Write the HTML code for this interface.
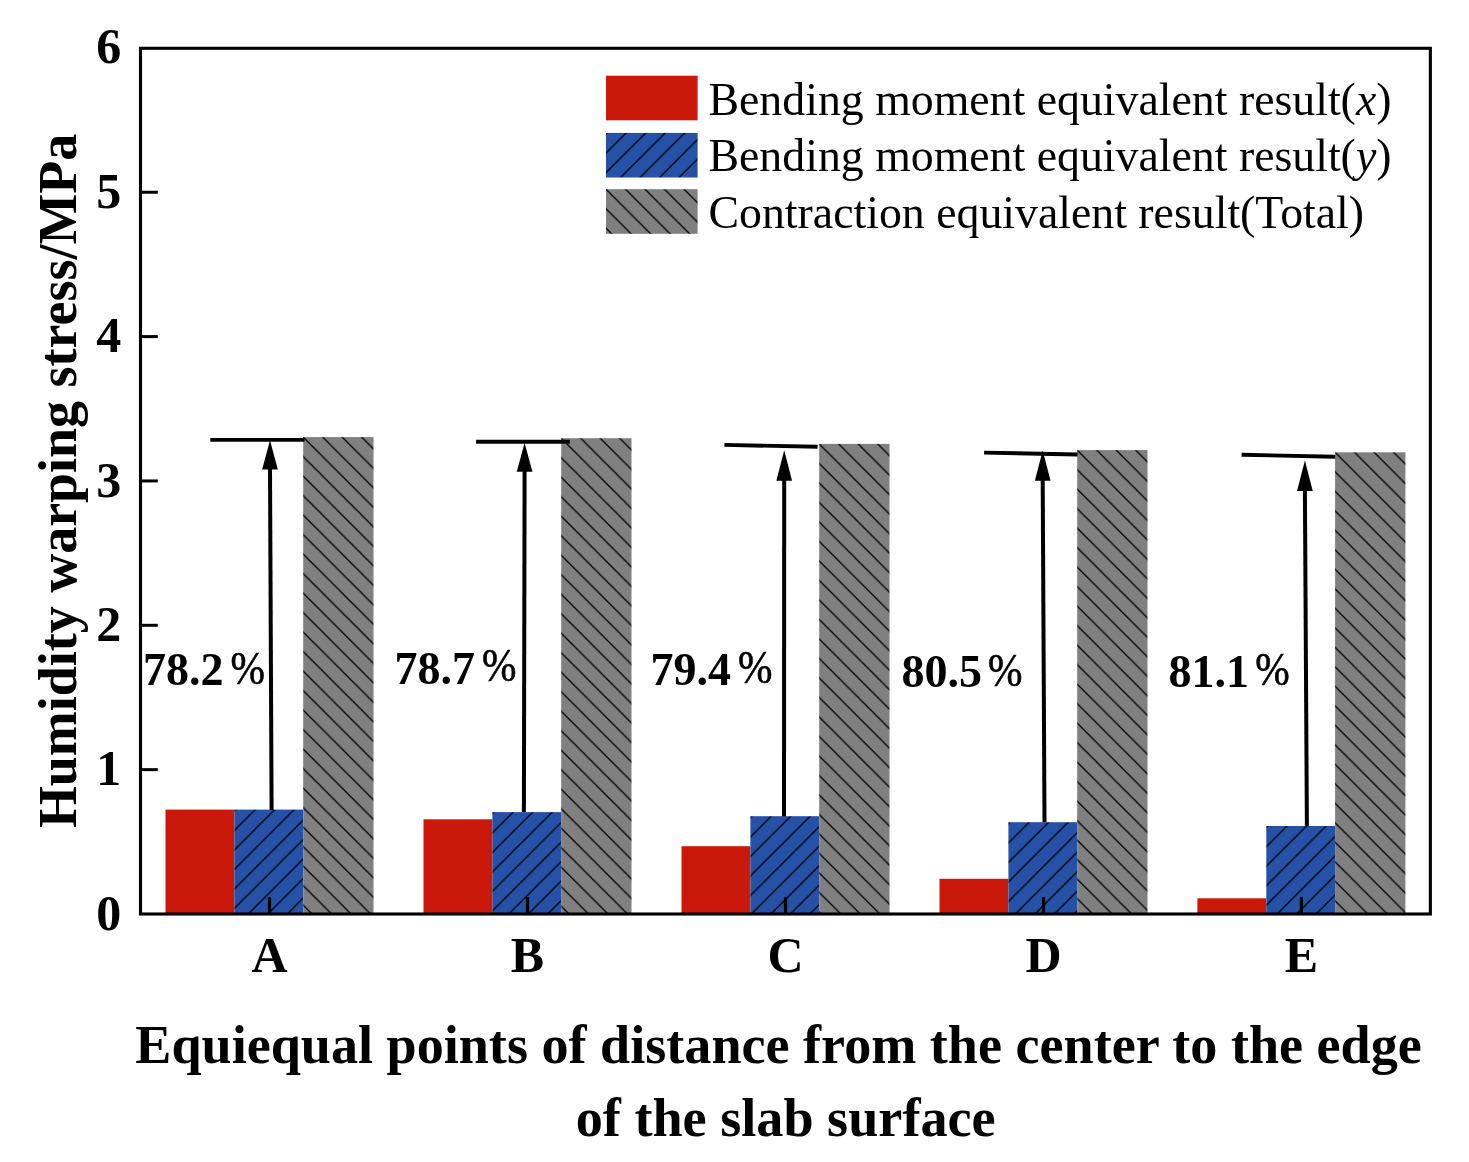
<!DOCTYPE html>
<html><head><meta charset="utf-8"><title>Humidity warping stress chart</title>
<style>html,body{margin:0;padding:0;background:#fff;overflow:hidden;width:1469px;height:1162px;} svg{display:block;}</style></head>
<body><svg width="1469" height="1162" viewBox="0 0 1469 1162">
<defs><pattern id="pb0" patternUnits="userSpaceOnUse" x="235.7" y="809.6" width="19.5" height="19.5"><rect width="19.5" height="19.5" fill="#2551A7"/><path d="M19.5,0L0,19.5M-9.75,9.75L9.75,-9.75M9.75,29.25L29.25,9.75" stroke="#000" stroke-width="1.3"/></pattern><pattern id="pg0" patternUnits="userSpaceOnUse" x="303.2" y="437.1" width="19.5" height="19.5"><rect width="19.5" height="19.5" fill="#808080"/><path d="M0,0L19.5,19.5M-9.75,9.75L9.75,29.25M9.75,-9.75L29.25,9.75" stroke="#000" stroke-width="1.3"/></pattern><pattern id="pb1" patternUnits="userSpaceOnUse" x="493.7" y="812.1" width="19.5" height="19.5"><rect width="19.5" height="19.5" fill="#2551A7"/><path d="M19.5,0L0,19.5M-9.75,9.75L9.75,-9.75M9.75,29.25L29.25,9.75" stroke="#000" stroke-width="1.3"/></pattern><pattern id="pg1" patternUnits="userSpaceOnUse" x="561.2" y="438.2" width="19.5" height="19.5"><rect width="19.5" height="19.5" fill="#808080"/><path d="M0,0L19.5,19.5M-9.75,9.75L9.75,29.25M9.75,-9.75L29.25,9.75" stroke="#000" stroke-width="1.3"/></pattern><pattern id="pb2" patternUnits="userSpaceOnUse" x="751.7" y="816.2" width="19.5" height="19.5"><rect width="19.5" height="19.5" fill="#2551A7"/><path d="M19.5,0L0,19.5M-9.75,9.75L9.75,-9.75M9.75,29.25L29.25,9.75" stroke="#000" stroke-width="1.3"/></pattern><pattern id="pg2" patternUnits="userSpaceOnUse" x="819.2" y="443.9" width="19.5" height="19.5"><rect width="19.5" height="19.5" fill="#808080"/><path d="M0,0L19.5,19.5M-9.75,9.75L9.75,29.25M9.75,-9.75L29.25,9.75" stroke="#000" stroke-width="1.3"/></pattern><pattern id="pb3" patternUnits="userSpaceOnUse" x="1009.7" y="822.2" width="19.5" height="19.5"><rect width="19.5" height="19.5" fill="#2551A7"/><path d="M19.5,0L0,19.5M-9.75,9.75L9.75,-9.75M9.75,29.25L29.25,9.75" stroke="#000" stroke-width="1.3"/></pattern><pattern id="pg3" patternUnits="userSpaceOnUse" x="1077.2" y="450.1" width="19.5" height="19.5"><rect width="19.5" height="19.5" fill="#808080"/><path d="M0,0L19.5,19.5M-9.75,9.75L9.75,29.25M9.75,-9.75L29.25,9.75" stroke="#000" stroke-width="1.3"/></pattern><pattern id="pb4" patternUnits="userSpaceOnUse" x="1267.6" y="826.0" width="19.5" height="19.5"><rect width="19.5" height="19.5" fill="#2551A7"/><path d="M19.5,0L0,19.5M-9.75,9.75L9.75,-9.75M9.75,29.25L29.25,9.75" stroke="#000" stroke-width="1.3"/></pattern><pattern id="pg4" patternUnits="userSpaceOnUse" x="1335.1" y="452.3" width="19.5" height="19.5"><rect width="19.5" height="19.5" fill="#808080"/><path d="M0,0L19.5,19.5M-9.75,9.75L9.75,29.25M9.75,-9.75L29.25,9.75" stroke="#000" stroke-width="1.3"/></pattern><pattern id="plb" patternUnits="userSpaceOnUse" x="606.7" y="132.9" width="19.5" height="19.5"><rect width="19.5" height="19.5" fill="#2551A7"/><path d="M19.5,0L0,19.5M-9.75,9.75L9.75,-9.75M9.75,29.25L29.25,9.75" stroke="#000" stroke-width="1.3"/></pattern><pattern id="plg" patternUnits="userSpaceOnUse" x="606.0" y="189.2" width="19.5" height="19.5"><rect width="19.5" height="19.5" fill="#808080"/><path d="M0,0L19.5,19.5M-9.75,9.75L9.75,29.25M9.75,-9.75L29.25,9.75" stroke="#000" stroke-width="1.3"/></pattern></defs>
<rect width="1469" height="1162" fill="#fff"/>
<rect x="165.5" y="809.6" width="68.9" height="104.4" fill="#CA180A"/>
<rect x="234.4" y="809.6" width="68.8" height="104.4" fill="url(#pb0)"/>
<rect x="303.2" y="437.1" width="70.3" height="476.9" fill="url(#pg0)"/>
<rect x="423.5" y="819.3" width="68.9" height="94.7" fill="#CA180A"/>
<rect x="492.4" y="812.1" width="68.8" height="101.9" fill="url(#pb1)"/>
<rect x="561.2" y="438.2" width="70.3" height="475.8" fill="url(#pg1)"/>
<rect x="681.5" y="846.2" width="68.9" height="67.8" fill="#CA180A"/>
<rect x="750.4" y="816.2" width="68.8" height="97.8" fill="url(#pb2)"/>
<rect x="819.2" y="443.9" width="70.3" height="470.1" fill="url(#pg2)"/>
<rect x="939.5" y="878.8" width="68.9" height="35.2" fill="#CA180A"/>
<rect x="1008.4" y="822.2" width="68.8" height="91.8" fill="url(#pb3)"/>
<rect x="1077.2" y="450.1" width="70.3" height="463.9" fill="url(#pg3)"/>
<rect x="1197.4" y="898.3" width="68.9" height="15.7" fill="#CA180A"/>
<rect x="1266.3" y="826.0" width="68.8" height="88.0" fill="url(#pb4)"/>
<rect x="1335.1" y="452.3" width="70.3" height="461.7" fill="url(#pg4)"/>
<rect x="140.5" y="48.3" width="1289.85" height="865.70" fill="none" stroke="#000" stroke-width="3.1"/>
<line x1="140.5" y1="769.65" x2="157.8" y2="769.65" stroke="#000" stroke-width="3"/>
<line x1="140.5" y1="625.30" x2="157.8" y2="625.30" stroke="#000" stroke-width="3"/>
<line x1="140.5" y1="480.95" x2="157.8" y2="480.95" stroke="#000" stroke-width="3"/>
<line x1="140.5" y1="336.60" x2="157.8" y2="336.60" stroke="#000" stroke-width="3"/>
<line x1="140.5" y1="192.25" x2="157.8" y2="192.25" stroke="#000" stroke-width="3"/>
<line x1="269.5" y1="897.2" x2="269.5" y2="914.0" stroke="#000" stroke-width="3.2"/>
<line x1="527.5" y1="897.2" x2="527.5" y2="914.0" stroke="#000" stroke-width="3.2"/>
<line x1="785.5" y1="897.2" x2="785.5" y2="914.0" stroke="#000" stroke-width="3.2"/>
<line x1="1043.5" y1="897.2" x2="1043.5" y2="914.0" stroke="#000" stroke-width="3.2"/>
<line x1="1301.4" y1="897.2" x2="1301.4" y2="914.0" stroke="#000" stroke-width="3.2"/>
<line x1="210.3" y1="439.9" x2="304.5" y2="439.9" stroke="#000" stroke-width="3.9"/>
<line x1="476.1" y1="441.7" x2="569.8" y2="441.7" stroke="#000" stroke-width="3.9"/>
<line x1="724.4" y1="444.9" x2="817.6" y2="446.8" stroke="#000" stroke-width="3.9"/>
<line x1="984.1" y1="452.6" x2="1077.6" y2="454.5" stroke="#000" stroke-width="3.9"/>
<line x1="1241.6" y1="454.8" x2="1335.2" y2="456.7" stroke="#000" stroke-width="3.9"/>
<line x1="271.6" y1="810.1" x2="270.0" y2="468.5" stroke="#000" stroke-width="4"/>
<path d="M270.0,440.3L277.85,469.5L262.15,469.5Z" fill="#000"/>
<line x1="523.9" y1="812.1" x2="524.6" y2="470.8" stroke="#000" stroke-width="4"/>
<path d="M524.6,443.1L532.45,471.8L516.75,471.8Z" fill="#000"/>
<line x1="784.0" y1="816.4" x2="784.2" y2="479.8" stroke="#000" stroke-width="4"/>
<path d="M784.2,450.2L792.0500000000001,480.8L776.35,480.8Z" fill="#000"/>
<line x1="1044.5" y1="822.3" x2="1042.7" y2="479.7" stroke="#000" stroke-width="4"/>
<path d="M1042.7,450.4L1050.55,480.7L1034.8500000000001,480.7Z" fill="#000"/>
<line x1="1306.9" y1="826.3" x2="1304.9" y2="489.9" stroke="#000" stroke-width="4"/>
<path d="M1304.9,460.5L1312.75,490.9L1297.0500000000002,490.9Z" fill="#000"/>
<text x="121.3" y="929.5" text-anchor="end" font-family="Liberation Serif, Times New Roman, serif" font-weight="bold" font-size="50">0</text>
<text x="121.3" y="785.1" text-anchor="end" font-family="Liberation Serif, Times New Roman, serif" font-weight="bold" font-size="50">1</text>
<text x="121.3" y="640.8" text-anchor="end" font-family="Liberation Serif, Times New Roman, serif" font-weight="bold" font-size="50">2</text>
<text x="121.3" y="496.5" text-anchor="end" font-family="Liberation Serif, Times New Roman, serif" font-weight="bold" font-size="50">3</text>
<text x="121.3" y="352.1" text-anchor="end" font-family="Liberation Serif, Times New Roman, serif" font-weight="bold" font-size="50">4</text>
<text x="121.3" y="207.8" text-anchor="end" font-family="Liberation Serif, Times New Roman, serif" font-weight="bold" font-size="50">5</text>
<text x="121.3" y="63.4" text-anchor="end" font-family="Liberation Serif, Times New Roman, serif" font-weight="bold" font-size="50">6</text>
<text x="269.5" y="971.7" text-anchor="middle" font-family="Liberation Serif, Times New Roman, serif" font-weight="bold" font-size="50">A</text>
<text x="527.5" y="971.7" text-anchor="middle" font-family="Liberation Serif, Times New Roman, serif" font-weight="bold" font-size="50">B</text>
<text x="785.5" y="971.7" text-anchor="middle" font-family="Liberation Serif, Times New Roman, serif" font-weight="bold" font-size="50">C</text>
<text x="1043.5" y="971.7" text-anchor="middle" font-family="Liberation Serif, Times New Roman, serif" font-weight="bold" font-size="50">D</text>
<text x="1301.4" y="971.7" text-anchor="middle" font-family="Liberation Serif, Times New Roman, serif" font-weight="bold" font-size="50">E</text>
<text transform="translate(75.9,827.2) rotate(-90)" x="-0.92" y="0" font-family="Liberation Serif, Times New Roman, serif" font-weight="bold" font-size="53.96">Humidity warping stress/MPa</text>
<text x="135.37" y="1063.3" font-family="Liberation Serif, Times New Roman, serif" font-weight="bold" font-size="54.14">Equiequal points of distance from the center to the edge</text>
<text x="575.73" y="1136.1" font-family="Liberation Serif, Times New Roman, serif" font-weight="bold" font-size="54.2">of the slab surface</text>
<rect x="606.0" y="75.7" width="91.6" height="44.6" fill="#CA180A"/>
<rect x="606.0" y="132.9" width="91.6" height="44.6" fill="url(#plb)"/>
<rect x="606.0" y="189.2" width="91.6" height="44.6" fill="url(#plg)"/>
<text x="708.5" y="114.6" font-family="Liberation Serif, Times New Roman, serif" font-size="45.8">Bending moment equivalent result(<tspan font-style="italic">x</tspan>)</text>
<text x="708.5" y="171.4" font-family="Liberation Serif, Times New Roman, serif" font-size="45.8">Bending moment equivalent result(<tspan font-style="italic">y</tspan>)</text>
<text x="708.5" y="227.6" font-family="Liberation Serif, Times New Roman, serif" font-size="45.8">Contraction equivalent result(Total)</text>
<text x="143.07" y="685.4" font-family="Liberation Serif, Times New Roman, serif" font-weight="bold" font-size="46">78.2</text>
<text transform="translate(230.58,683.7) scale(0.9,1)" font-family="Liberation Serif, Times New Roman, serif" font-size="46" stroke="#000" stroke-width="0.6">%</text>
<text x="394.47" y="683.6" font-family="Liberation Serif, Times New Roman, serif" font-weight="bold" font-size="46">78.7</text>
<text transform="translate(481.98,681.3) scale(0.9,1)" font-family="Liberation Serif, Times New Roman, serif" font-size="46" stroke="#000" stroke-width="0.6">%</text>
<text x="650.57" y="684.6" font-family="Liberation Serif, Times New Roman, serif" font-weight="bold" font-size="46">79.4</text>
<text transform="translate(737.98,683.0) scale(0.9,1)" font-family="Liberation Serif, Times New Roman, serif" font-size="46" stroke="#000" stroke-width="0.6">%</text>
<text x="901.47" y="686.9" font-family="Liberation Serif, Times New Roman, serif" font-weight="bold" font-size="46">80.5</text>
<text transform="translate(987.98,685.8) scale(0.9,1)" font-family="Liberation Serif, Times New Roman, serif" font-size="46" stroke="#000" stroke-width="0.6">%</text>
<text x="1168.47" y="686.6" font-family="Liberation Serif, Times New Roman, serif" font-weight="bold" font-size="46">81.1</text>
<text transform="translate(1255.18,685.2) scale(0.9,1)" font-family="Liberation Serif, Times New Roman, serif" font-size="46" stroke="#000" stroke-width="0.6">%</text>
</svg></body></html>
